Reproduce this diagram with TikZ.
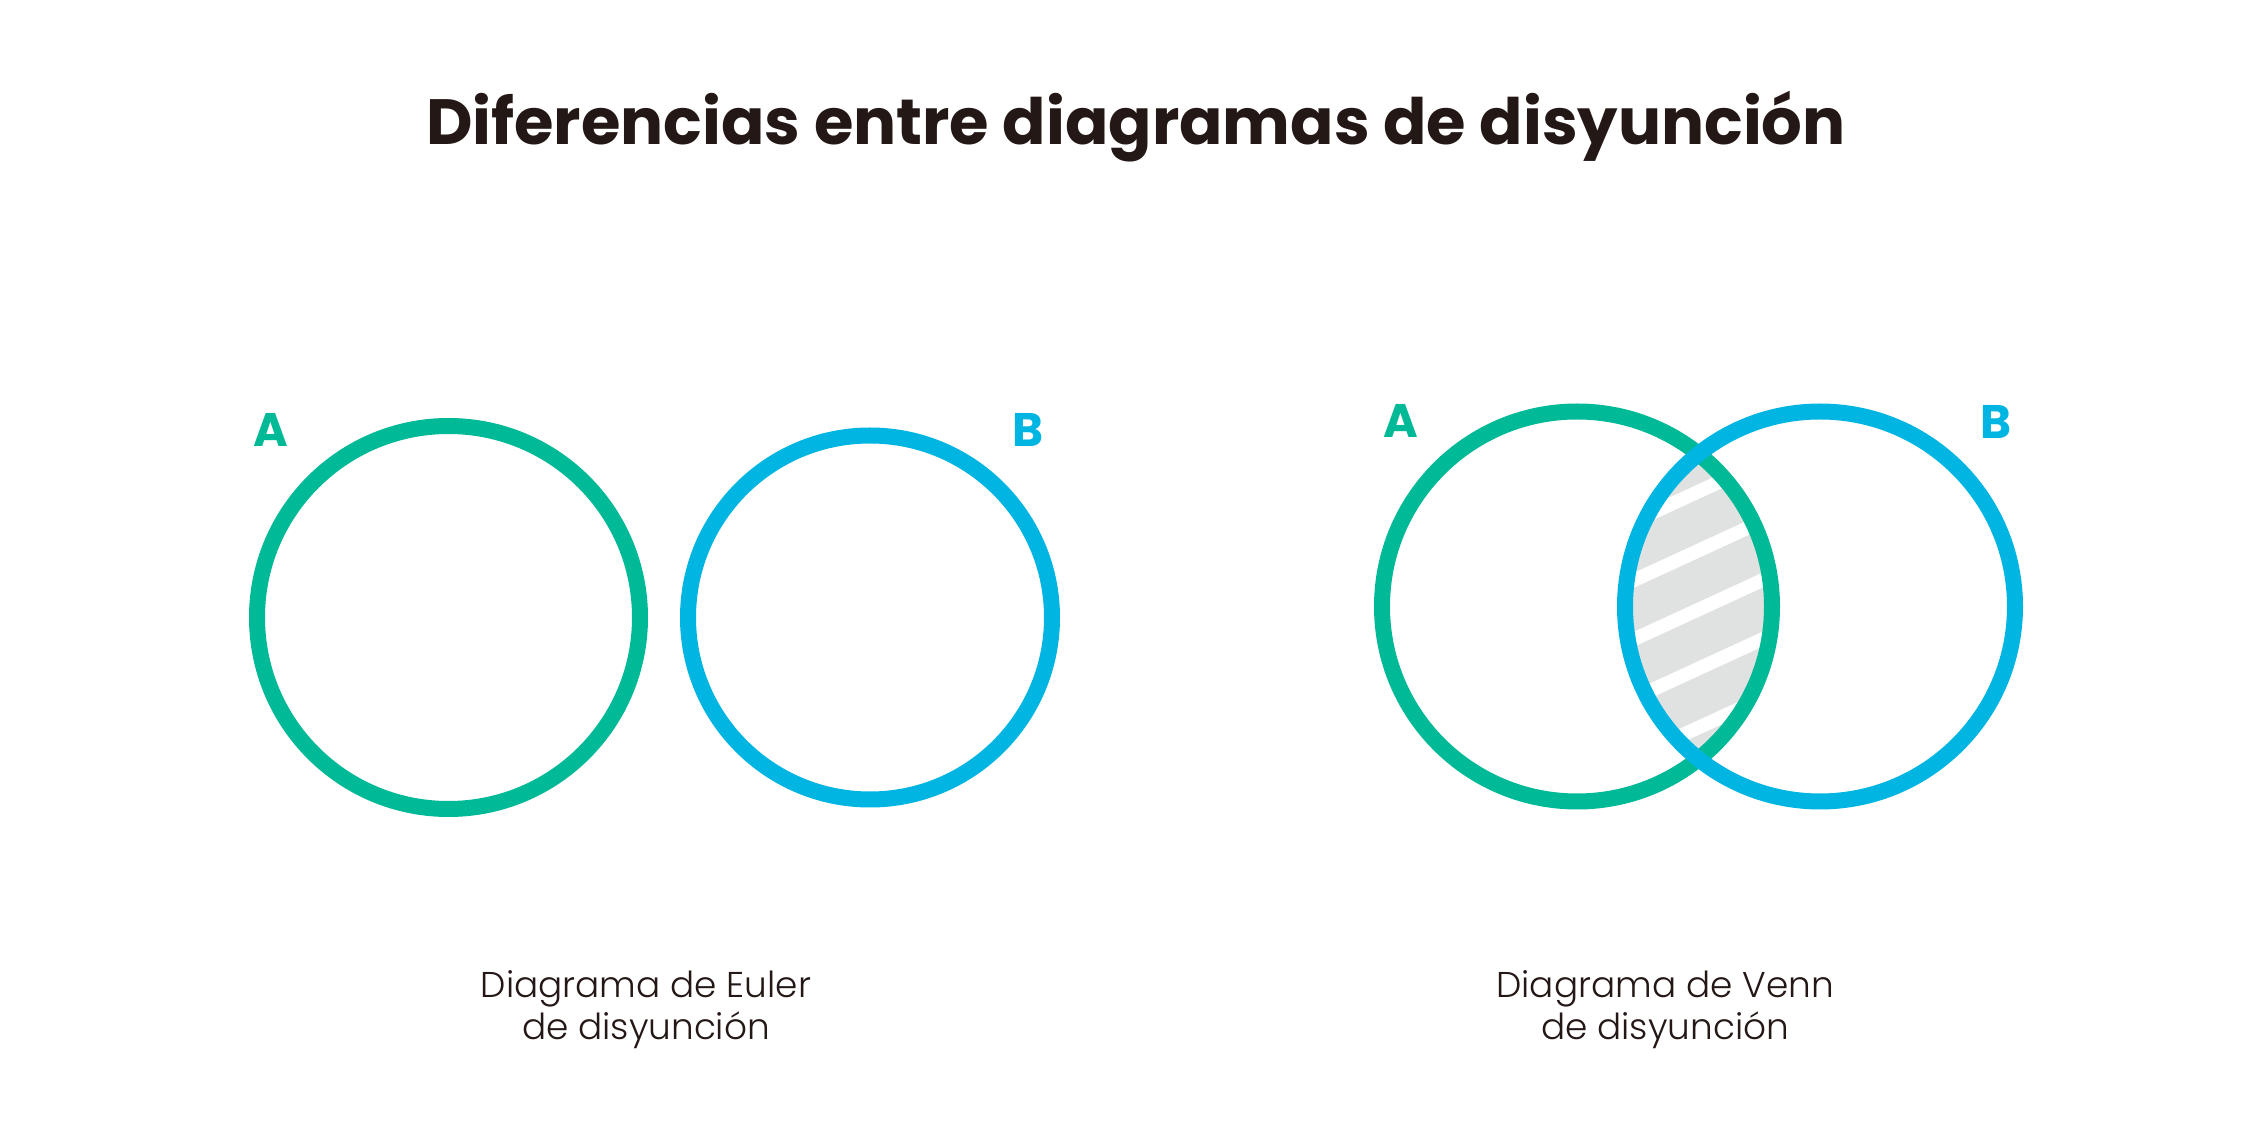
\documentclass[tikz,border=0pt]{standalone}
\usepackage{fontspec}
\setmainfont{Poppins}
\newfontfamily\lightfont{Poppins Light}
\definecolor{verde}{RGB}{0,185,150}
\definecolor{azul}{RGB}{0,181,226}
\definecolor{gris}{RGB}{224,225,225}
\definecolor{tinta}{RGB}{35,24,21}

\begin{document}
\begin{tikzpicture}[ring/.style={line width=1.6mm},
	letra/.style={font=\bfseries\fontsize{13.4}{16}\selectfont,inner sep=0pt},
	pie/.style={anchor=base,align=center,text=tinta,font=\lightfont\fontsize{10.2}{11.7}\selectfont}]
	\useasboundingbox[fill=white](0,0) rectangle (22.68,11.34);
	\node[anchor=base,text=tinta,font=\bfseries\fontsize{18.2}{22}\selectfont] (titulo) at (11.36,9.89) {Diferencias entre diagramas de disyunción};
	% Euler
	\coordinate (eA) at (4.485,5.165);
	\coordinate (eB) at (8.70,5.165);
	\draw[ring,verde](eA) circle(1.915);
	\draw[ring,azul](eB) circle(1.82);
	\node[letra,text=verde] (eAl) at (2.71,7.04) {A};
	\node[letra,text=azul] (eBl) at (10.28,7.04) {B};
	\node[pie] (euler) at (6.46,0.95) {Diagrama de Euler\\de disyunción};
	% Venn
	\coordinate (vA) at (15.77,5.275);
	\coordinate (vB) at (18.20,5.275);
	\begin{scope}
		\clip(vA) circle(1.95);
		\clip(vB) circle(1.95);
		\fill[gris](vA) circle(1.95);
		\foreach \k in {0,...,4}
			\draw[white,line width=1.36mm](16.367,6.14-0.59*\k) ++(204.7:1.5) -- ++(24.7:4);
	\end{scope}
	\draw[ring,verde](vA) circle(1.95);
	\draw[ring,azul](vB) circle(1.95);
	\node[letra,text=verde] (vAl) at (14.01,7.13) {A};
	\node[letra,text=azul] (vBl) at (19.96,7.12) {B};
	\node[pie] (venn) at (16.65,0.95) {Diagrama de Venn\\de disyunción};
\end{tikzpicture}
\end{document}
